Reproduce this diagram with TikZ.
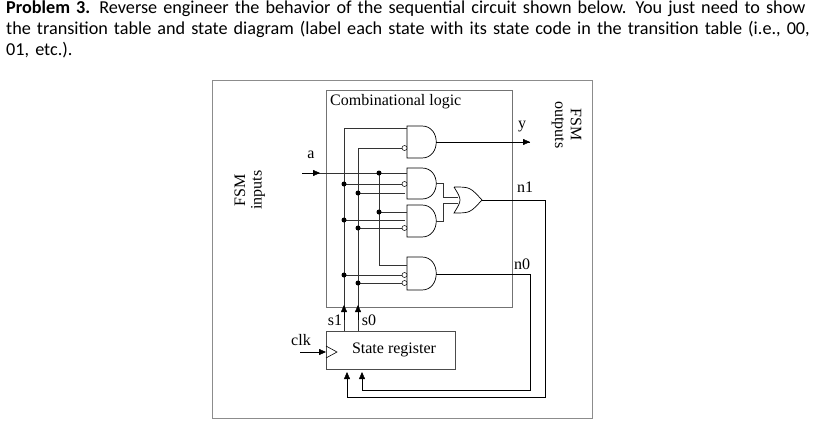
\documentclass[tikz,border=0pt]{standalone}
\usepackage{fontspec}
\setmainfont{Liberation Serif}
\newfontfamily\probfont{Carlito}
\usetikzlibrary{arrows.meta}
\tikzset{
  wire/.style={draw=black!80, line width=0.7pt},
  sig/.style={draw=black, line width=0.9pt},
  tip/.style={-{Triangle[length=7pt,width=6pt]}},
  dot/.style={circle, fill=black, inner sep=0pt, minimum size=5pt},
  bub/.style={circle, draw=black, fill=white, inner sep=0pt, minimum size=5pt, line width=0.5pt},
  lbl/.style={font=\fontsize{16}{16}\selectfont, inner sep=1pt},
}
% and gate: left x, top y, bottom y
\newcommand\andgate[3]{%
  \draw[line width=0.7pt] (#1,#2) -- ({#1+15},#2) .. controls ({#1+34},#2) and ({#1+34},#3) .. ({#1+15},#3) -- (#1,#3) -- cycle;}
\begin{document}
\begin{tikzpicture}[x=1pt, y=-1pt]
  \useasboundingbox (0,0) rectangle (832,431);
  % problem text
  \node[anchor=north west, text width=818pt, align=left, inner sep=0pt,
        font=\probfont\fontsize{18.2}{21}\selectfont] (prob) at (6,1)
    {\textbf{Problem 3.} Reverse engineer the behavior of the sequential circuit shown below. You just need to show the transition table and state diagram (label each state with its state code in the transition table (i.e., 00, 01, etc.).};
  % boxes
  \draw[black!45, line width=0.8pt] (212,80) rectangle (592,418);
  \draw[black!55, line width=0.8pt] (326,90) rectangle (512,307);
  \node[draw=black!70, line width=0.8pt, minimum width=129pt, minimum height=38pt, anchor=north west,
        inner sep=0pt] (reg) at (326,331) {};
  \node[lbl] (regtxt) at (394,350) {State register};
  \node[lbl, anchor=north west] (comb) at (329,93) {Combinational logic};
  \draw[line width=0.6pt] (326,346) -- (337,352) -- (326,358);
  % side labels
  \node[lbl, rotate=90] (fsmin) at (240,190) {FSM};
  \node[lbl, rotate=90] (inputs) at (258,190) {inputs};
  \node[lbl, rotate=-90] (fsmout) at (576,125) {FSM};
  \node[lbl, rotate=-90] (outputs) at (558,125) {outputs};
  % gates
  \andgate{407}{126}{158}
  \andgate{407}{168}{199}
  \andgate{407}{205}{237}
  \andgate{407}{257}{290}
  \draw[line width=0.7pt] (454,187) .. controls (470,187) .. (482,200)
     .. controls (470,213) .. (454,213) .. controls (462,200) .. (454,187);
  % state lines
  \coordinate (s1b) at (344,331);
  \coordinate (s0b) at (358,331);
  \draw[wire] (s1b) -- (344,128) -- (407,128);
  \draw[wire] (s0b) -- (358,148) -- (405,148);
  \draw[tip] (344,320) -- (344,305);
  \draw[tip] (358,320) -- (358,305);
  \node[lbl] (s1) at (335,320) {s1};
  \node[lbl] (s0) at (369,320) {s0};
  % input a
  \coordinate (ain) at (302,173);
  \draw[wire] (ain) -- (407,173);
  \draw[tip] (ain) -- (320,173);
  \node[lbl] (a) at (311,155) {a};
  \draw[wire] (379,173) -- (379,265) -- (407,265);
  \draw[wire] (379,212) -- (407,212);
  \foreach \yy in {173,212} \node[dot] at (379,\yy) {};
  % gate inputs from s1/s0
  \foreach \yy in {184,220,275} {\draw[wire] (344,\yy) -- (405,\yy); \node[dot] at (344,\yy) {};}
  \foreach \yy in {193,228,283} {\draw[wire] (358,\yy) -- (405,\yy); \node[dot] at (358,\yy) {};}
  \foreach \yy in {148,184,228,275,283} \node[bub] at (404.5,\yy) {};
  % and outputs to or
  \draw[wire] (436,183) -- (443,183) -- (443,197) -- (458,197);
  \draw[wire] (436,221) -- (443,221) -- (443,203) -- (458,203);
  % outputs
  \coordinate (yout) at (530,142);
  \draw[sig] (436,142) -- (yout);
  \draw[tip] (515,142) -- (yout);
  \node[lbl] (y) at (522,127) {y};
  \draw[sig] (482,200) -- (545,200) -- (545,397) -- (347,397);
  \draw[tip] (347,397) -- (347,372);
  \draw[sig] (436,274) -- (530,274) -- (530,390) -- (362,390);
  \draw[tip] (362,390) -- (362,372);
  \node[lbl] (n1) at (525,187) {n1};
  \node[lbl] (n0) at (522,264) {n0};
  % clock
  \coordinate (clkin) at (300,352);
  \draw[tip] (clkin) -- (326,352);
  \node[lbl] (clk) at (301,340) {clk};
\end{tikzpicture}
\end{document}
